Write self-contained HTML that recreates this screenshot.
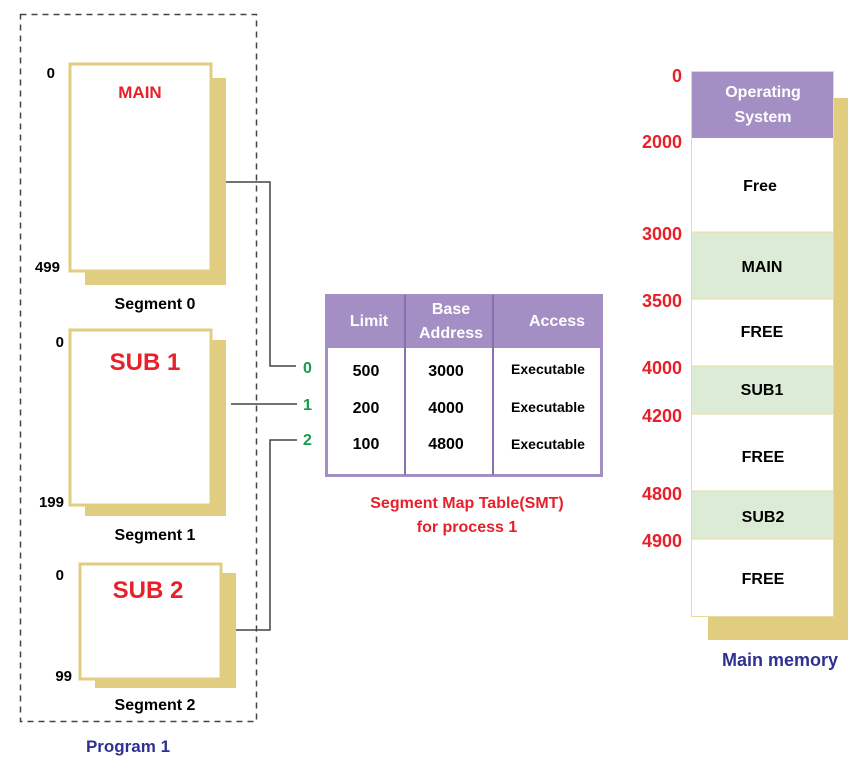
<!DOCTYPE html>
<html><head><meta charset="utf-8"><style>body{margin:0;background:#fff}svg{display:block;font-family:"Liberation Sans",sans-serif;font-weight:bold}</style></head><body>
<svg width="863" height="764" viewBox="0 0 863 764" xmlns="http://www.w3.org/2000/svg">
<rect x="20.5" y="14.5" width="236" height="707" fill="none" stroke="#444" stroke-width="1.5" stroke-dasharray="6,5"/>
<!-- seg0 -->
<rect x="85" y="78" width="141" height="207" fill="#e0cd80"/>
<rect x="70" y="64" width="141" height="207" fill="#fff" stroke="#e0cd80" stroke-width="3"/>
<text x="140" y="98" font-size="17" fill="#e8202a" text-anchor="middle">MAIN</text>
<text x="55" y="78" font-size="15" text-anchor="end">0</text>
<text x="60" y="272" font-size="15" text-anchor="end">499</text>
<text x="155" y="309" font-size="16" text-anchor="middle">Segment 0</text>
<!-- seg1 -->
<rect x="85" y="340" width="141" height="176" fill="#e0cd80"/>
<rect x="70" y="330" width="141" height="175" fill="#fff" stroke="#e0cd80" stroke-width="3"/>
<text x="145" y="370" font-size="24" fill="#e8202a" text-anchor="middle">SUB 1</text>
<text x="64" y="347" font-size="15" text-anchor="end">0</text>
<text x="64" y="507" font-size="15" text-anchor="end">199</text>
<text x="155" y="540" font-size="16" text-anchor="middle">Segment 1</text>
<!-- seg2 -->
<rect x="95" y="573" width="141" height="115" fill="#e0cd80"/>
<rect x="80" y="564" width="141" height="115" fill="#fff" stroke="#e0cd80" stroke-width="3"/>
<text x="148" y="598" font-size="24" fill="#e8202a" text-anchor="middle">SUB 2</text>
<text x="64" y="580" font-size="15" text-anchor="end">0</text>
<text x="72" y="681" font-size="15" text-anchor="end">99</text>
<text x="155" y="710" font-size="16" text-anchor="middle">Segment 2</text>
<text x="128" y="752" font-size="17" fill="#2e3192" text-anchor="middle">Program 1</text>
<!-- connectors -->
<g fill="none" stroke="#444" stroke-width="1.5">
<polyline points="226,182 270,182 270,366 296,366"/>
<line x1="231" y1="404" x2="297" y2="404"/>
<polyline points="236,630 270,630 270,440 297,440"/>
</g>
<g font-size="16" fill="#1a9a4a">
<text x="303" y="373">0</text><text x="303" y="410">1</text><text x="303" y="445">2</text>
</g>
<!-- table -->
<rect x="326.5" y="295.5" width="275" height="180" fill="#fff" stroke="#a48fc5" stroke-width="3"/>
<rect x="326" y="295" width="276" height="53" fill="#a48fc5"/>
<line x1="405" y1="295" x2="405" y2="475" stroke="#8870b0" stroke-width="2"/>
<line x1="493" y1="295" x2="493" y2="475" stroke="#8870b0" stroke-width="2"/>
<g fill="#fff" font-size="16" text-anchor="middle">
<text x="369" y="326">Limit</text><text x="451" y="314">Base</text><text x="451" y="338">Address</text><text x="557" y="326">Access</text>
</g>
<g font-size="16" text-anchor="middle">
<text x="366" y="376">500</text><text x="446" y="376">3000</text>
<text x="366" y="413">200</text><text x="446" y="413">4000</text>
<text x="366" y="449">100</text><text x="446" y="449">4800</text>
</g>
<g font-size="14" text-anchor="middle">
<text x="548" y="374">Executable</text><text x="548" y="412">Executable</text><text x="548" y="449">Executable</text>
</g>
<text x="467" y="508" font-size="16" fill="#e8202a" text-anchor="middle">Segment Map Table(SMT)</text>
<text x="467" y="532" font-size="16" fill="#e8202a" text-anchor="middle">for process 1</text>
<!-- memory -->
<rect x="708" y="98" width="140" height="542" fill="#e0cd80"/>
<rect x="691" y="71" width="143" height="67" fill="#a48fc5"/>
<rect x="691" y="138" width="143" height="94" fill="#fff"/>
<rect x="691" y="232" width="143" height="67" fill="#dbebd5"/>
<rect x="691" y="299" width="143" height="67" fill="#fff"/>
<rect x="691" y="366" width="143" height="48" fill="#dbebd5"/>
<rect x="691" y="414" width="143" height="77" fill="#fff"/>
<rect x="691" y="491" width="143" height="48" fill="#dbebd5"/>
<rect x="691" y="539" width="143" height="78" fill="#fff"/>
<rect x="691.5" y="71.5" width="142" height="545" fill="none" stroke="#eadb9c" stroke-width="1"/>
<g stroke="#eadb9c" stroke-width="1"><line x1="691" y1="232" x2="834" y2="232"/><line x1="691" y1="299" x2="834" y2="299"/><line x1="691" y1="366" x2="834" y2="366"/><line x1="691" y1="414" x2="834" y2="414"/><line x1="691" y1="491" x2="834" y2="491"/><line x1="691" y1="539" x2="834" y2="539"/></g>
<text x="763" y="97" font-size="16" fill="#fff" text-anchor="middle">Operating</text>
<text x="763" y="122" font-size="16" fill="#fff" text-anchor="middle">System</text>
<g font-size="16" text-anchor="middle">
<text x="760" y="191">Free</text><text x="762" y="272">MAIN</text><text x="762" y="337">FREE</text>
<text x="762" y="395">SUB1</text><text x="763" y="462">FREE</text><text x="763" y="522">SUB2</text><text x="763" y="584">FREE</text>
</g>
<g font-size="18" fill="#e8202a" text-anchor="end">
<text x="682" y="82">0</text><text x="682" y="148">2000</text><text x="682" y="240">3000</text><text x="682" y="307">3500</text>
<text x="682" y="374">4000</text><text x="682" y="422">4200</text><text x="682" y="500">4800</text><text x="682" y="547">4900</text>
</g>
<text x="780" y="666" font-size="18" fill="#2e3192" text-anchor="middle">Main memory</text>
</svg>
</body></html>
